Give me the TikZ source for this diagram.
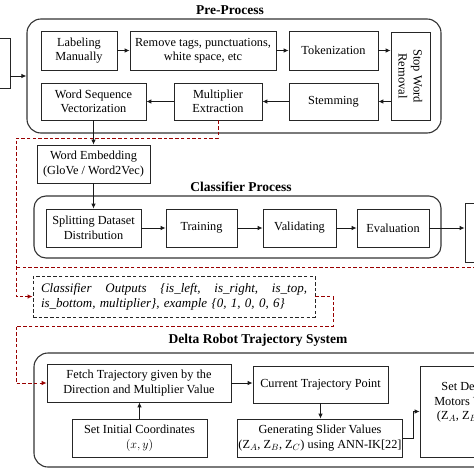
\documentclass[tikz,border=0pt]{standalone}
\usepackage{fontspec}
\setmainfont{Liberation Serif}
\usetikzlibrary{arrows.meta}
\begin{document}
\begin{tikzpicture}[x=1pt,y=-1pt,
  bx/.style={draw=black!85, line width=0.8pt, fill=white, align=center, inner sep=1pt, font=\fontsize{12.3}{14.5}\selectfont},
  cont/.style={draw=black!80, line width=1.1pt, rounded corners=14pt, minimum width=0pt},
  ttl/.style={font=\fontsize{13.5}{16}\selectfont\bfseries, inner sep=0pt},
  arr/.style={-{Latex[length=5pt,width=4.5pt]}, line width=0.9pt, draw=black!90},
  rarr/.style={draw=red!60!black, dash pattern=on 3.5pt off 2.2pt, line width=0.9pt},
  rtip/.style={-{Latex[length=5pt,width=4.5pt]}},
]
\useasboundingbox (0,0) rectangle (474,474);
\clip (0,0) rectangle (474,474);
\fill[white] (0,0) rectangle (474,474);

% containers
\node[cont, minimum width=414, minimum height=114] (pre) at (234,76) {};
\node[cont, minimum width=407, minimum height=62, rounded corners=12pt] (cls) at (237.5,227) {};
\node[cont, minimum width=506, minimum height=114] (dlt) at (287,410) {};

% titles
\node[ttl] (t1) at (230,10) {Pre-Process};
\node[ttl] (t2) at (241,187) {Classifier Process};
\node[ttl] (t3) at (258,340) {Delta Robot Trajectory System};

% pre-process
\node[bx, minimum width=30, minimum height=50] (lb) at (-5,63) {};
\node[bx, minimum width=76, minimum height=39] (lab) at (79,50.5) {Labeling\\Manually};
\node[bx, minimum width=146, minimum height=39] (rem) at (203,50.5) {Remove tags, punctuations,\\white space, etc};
\node[bx, minimum width=89, minimum height=39] (tok) at (333.5,50.5) {Tokenization};
\node[bx, minimum width=39, minimum height=88] (stop) at (410.5,76) {};
\node[rotate=-90, align=center, inner sep=0pt, font=\fontsize{12.5}{15}\selectfont] (stoptxt) at (stop.center) {Stop Word\\Removal};
\node[bx, minimum width=105, minimum height=37] (wsv) at (93.5,101.5) {Word Sequence\\Vectorization};
\node[bx, minimum width=88, minimum height=37] (mul) at (218,101.5) {Multiplier\\Extraction};
\node[bx, minimum width=89, minimum height=37] (stem) at (333.5,101.5) {Stemming};

% classifier
\node[bx, minimum width=113, minimum height=38] (emb) at (93.5,164) {Word Embedding\\(GloVe / Word2Vec)};
\node[bx, minimum width=95, minimum height=38] (split) at (93.5,228) {Splitting Dataset\\Distribution};
\node[bx, minimum width=71, minimum height=38] (train) at (201.5,228) {Training};
\node[bx, minimum width=73, minimum height=38] (valid) at (299.5,228) {Validating};
\node[bx, minimum width=72, minimum height=38] (eval) at (393,228) {Evaluation};
\node[bx, minimum width=25, minimum height=59] (rb) at (477.5,232.5) {};

% classifier outputs
\node[draw=black!85, dash pattern=on 3.5pt off 2.2pt, line width=0.9pt, minimum width=282, minimum height=41, inner sep=0pt,
      font=\fontsize{13}{15}\selectfont\itshape, align=left, text width=266] (outp) at (174,296.5)
  {\makebox[266pt][l]{Classifier\hfill Outputs\hfill \{is\_left,\hfill is\_right,\hfill is\_top,}\\is\_bottom, multiplier\}, example \{0, 1, 0, 0, 6\}};

% delta robot
\node[bx, minimum width=184, minimum height=38] (fetch) at (139,383) {Fetch Trajectory given by the\\Direction and Multiplier Value};
\node[bx, minimum width=135, minimum height=38] (init) at (139.5,438) {Set Initial Coordinates\\$(x, y)$};
\node[bx, minimum width=135, minimum height=37] (cur) at (320.5,384.5) {Current Trajectory Point};
\node[bx, minimum width=164, minimum height=38] (gen) at (320,438) {Generating Slider Values\\(Z$_A$, Z$_B$, Z$_C$) using ANN-IK[22]};
\node[bx, minimum width=100, minimum height=91] (setm) at (470,411.5) {Set Desired\\Motors Values\\(Z$_A$, Z$_B$, Z$_C$)\\[7pt]};

% black arrows
\draw[arr] (lb.east |- pre.west) -- (pre.west);
\draw[arr] (lab) -- (rem);
\draw[arr] (rem) -- (tok);
\draw[arr] (tok.east) -- (tok.east -| stop.west);
\draw[arr] (stem.east -| stop.west) -- (stem.east);
\draw[arr] (stem) -- (mul);
\draw[arr] (mul) -- (wsv);
\draw[arr] (wsv) -- (emb);
\draw[arr] (emb) -- (split);
\draw[arr] (split) -- (train);
\draw[arr] (train) -- (valid);
\draw[arr] (valid) -- (eval);
\draw[arr] (eval.east) -- (eval.east -| rb.west);
\draw[arr] (init.north) -- (init.north |- fetch.south);
\draw[arr] (fetch.east) -- (fetch.east -| cur.west);
\draw[arr] (cur.south) -- (cur.south |- gen.north);
\draw[arr] (gen.east) -- ++(10,0) |- (setm.west);

% red dashed connectors
\coordinate (ra) at (16,138);
\coordinate (rb1) at (16,267);
\coordinate (rc) at (333,326);
\coordinate (rc2) at (16,326);
\draw[rarr, rtip] (mul.south) |- (ra) |- (outp.west);
\draw[rarr] (rb.south) |- (rb1);
\draw[rarr, rtip] (outp.east) -| (rc) -- (rc2) |- (fetch.west);
\end{tikzpicture}
\end{document}
